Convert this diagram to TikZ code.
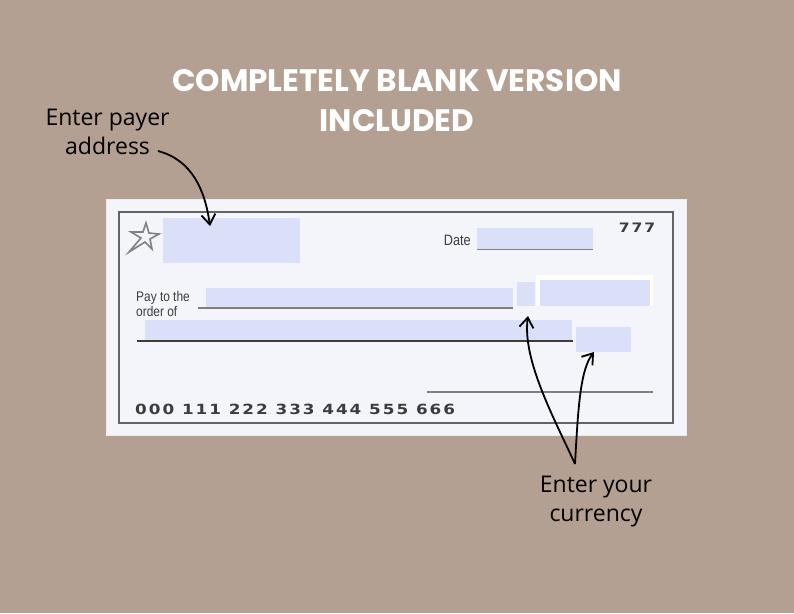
\documentclass[tikz,border=0pt]{standalone}
\usepackage{fontspec}
\setmainfont{Open Sans}
\newfontfamily\titlefont{Poppins}
\newfontfamily\micrfont[LetterSpace=14,FakeStretch=1.2]{DejaVu Sans}
\newfontfamily\chkfont[FakeStretch=0.85]{Liberation Sans}
\usetikzlibrary{arrows.meta}
\definecolor{bg}{HTML}{B4A092}
\definecolor{paper}{HTML}{F3F5FA}
\definecolor{field}{HTML}{D9E0F7}
\definecolor{ink}{HTML}{3C3C3C}
\tikzset{fieldbox/.style={fill=field,draw=none},
 callout/.style={line width=1.8pt,-{Straight Barb[length=10pt,width=14pt,line width=1.8pt]}},
 chktext/.style={text=ink,inner sep=0pt}}
\begin{document}
\begin{tikzpicture}[x=1pt,y=-1pt]
\fill[bg] (0,0) rectangle (794,613);
\useasboundingbox (0,0) rectangle (794,613);
\node[text=white,font=\titlefont\bfseries\fontsize{31}{40}\selectfont,align=center] (title) at (397,101) {COMPLETELY BLANK VERSION\\INCLUDED};
\node[font=\fontsize{23}{29}\selectfont,align=center,anchor=west] (payer) at (42,132) {Enter payer\\address};
\node[font=\fontsize{23}{29}\selectfont,align=center] (cur) at (596,502) {Enter your\\currency};
\fill[paper,draw=white!85!gray] (106,199) rectangle (686,435);
\draw[ink!80,line width=1.4pt] (119,212) rectangle (673,423);
\draw[gray,line width=1.6pt,line join=miter] (146,223) -- (149,233) -- (159,234) -- (150,239) -- (152,249) -- (145,242) -- (129,252) -- (141,238) -- (131,232) -- (143,232) -- cycle;
\node[fieldbox,minimum width=137,minimum height=45,inner sep=0,anchor=north west] (addr) at (163,218) {};
\node[chktext,anchor=east,font=\chkfont\fontsize{15}{15}\selectfont] (date) at (471,240) {Date};
\node[fieldbox,minimum width=116,minimum height=21,inner sep=0,anchor=north west] (datebox) at (477,228) {};
\draw[gray,line width=1.2pt] (datebox.south west) -- (datebox.south east);
\node[chktext,font=\micrfont\bfseries\fontsize{13}{13}\selectfont] (num) at (637,228) {777};
\node[fill=white,minimum width=117,minimum height=31,inner sep=0,anchor=north west] (wb) at (536,275) {};
\node[fieldbox,minimum width=110,minimum height=26,inner sep=0,anchor=north west] (amt) at (540,280) {};
\node[fieldbox,minimum width=18,minimum height=24,inner sep=0,anchor=north west] (cur1) at (517,282) {};
\node[chktext,anchor=west,align=left,font=\chkfont\fontsize{14}{10}\selectfont] (pay) at (136,304) {Pay to the\\order of};
\node[fieldbox,minimum width=307,minimum height=19,inner sep=0,anchor=north west] (payee) at (206,288) {};
\draw[gray,line width=1.2pt] (198,308) -- (513,308);
\node[fieldbox,minimum width=427,minimum height=20,inner sep=0,anchor=north west] (words) at (145,320) {};
\draw[ink,line width=1.2pt] (137,341) -- (573,341);
\node[fieldbox,minimum width=55,minimum height=25,inner sep=0,anchor=north west] (cur2) at (576,327) {};
\draw[gray,line width=1.2pt] (427,392) -- (653,392);
\node[chktext,anchor=west,font=\micrfont\bfseries\fontsize{14}{14}\selectfont] (micr) at (135,409) {000 111 222 333 444 555 666};
\coordinate (pa) at (158,151);
\coordinate (ca) at (575,464);
\draw[callout] (pa) .. controls (192,160) and (205,190) .. (210,226);
\draw[callout] (ca) .. controls (555,420) and (522,360) .. (528,316);
\draw[callout] (ca) .. controls (578,410) and (580,370) .. (594,352);
\end{tikzpicture}
\end{document}
